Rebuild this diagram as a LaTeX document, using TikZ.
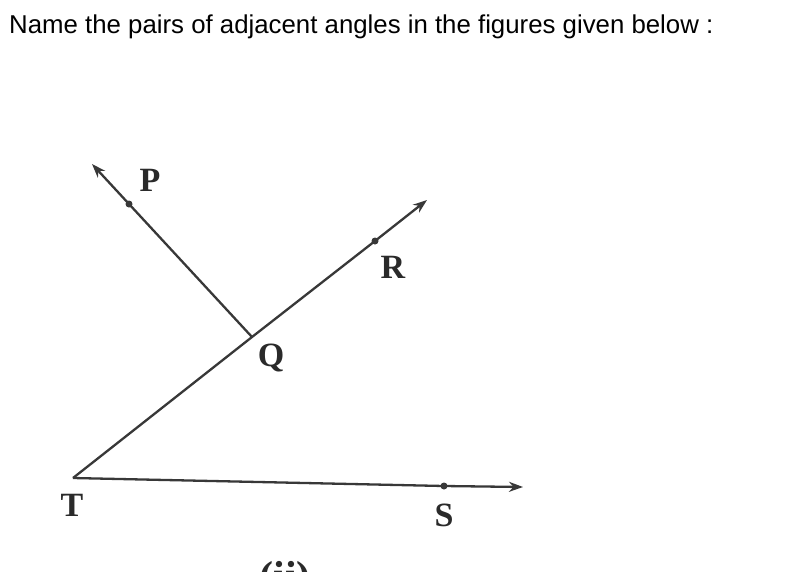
\documentclass[tikz,border=0pt]{standalone}
\usepackage{fontspec}
\setmainfont{Liberation Serif}
\newfontfamily\titlefont{Liberation Sans}
\usetikzlibrary{arrows.meta}
\definecolor{linegray}{HTML}{383838}
\definecolor{labelgray}{HTML}{2A2A2A}
\begin{document}
\begin{tikzpicture}[x=1pt,y=-1pt,
  ray/.style={draw=linegray,line width=2.3pt,-{Stealth[length=14pt,width=10pt]}},
  dotpt/.style={circle,fill=linegray,inner sep=0pt,minimum size=7pt},
  lbl/.style={font=\fontsize{34}{34}\selectfont\bfseries,text=labelgray,inner sep=0pt}]
\useasboundingbox (0,0) rectangle (800,587);
\fill[white] (0,0) rectangle (800,587);
\node[anchor=base west,inner sep=0pt,font=\titlefont\fontsize{25.8}{30}\selectfont] (title) at (9,33)
  {Name the pairs of adjacent angles in the figures given below :};
% points
\coordinate (T) at (73,478);
\coordinate (Q) at (252,337);
\node[dotpt] (R) at (375,241) {};
\coordinate (Rend) at (427,200);
\node[dotpt] (P) at (129,204) {};
\coordinate (Pend) at (92,164);
\node[dotpt] (S) at (444,486) {};
\coordinate (Send) at (523,487);
% rays
\draw[ray] (T) -- (Q) -- (R.center) -- (Rend);
\draw[ray] (Q) -- (P.center) -- (Pend);
\draw[ray] (T) -- (S.center) -- (Send);
% labels
\node[lbl] (Pl) at (150,180) {P};
\node[lbl] (Rl) at (393,267) {R};
\node[lbl] (Ql) at (271,358) {Q};
\node[lbl] (Tl) at (72,505) {T};
\node[lbl] (Sl) at (444,515) {S};
% partially visible figure caption
\begin{scope}
\clip (200,540) rectangle (400,571);
\node[lbl,anchor=base,font=\fontsize{42}{42}\selectfont\bfseries] (cap) at (285,590) {(ii)};
\end{scope}
\end{tikzpicture}
\end{document}
